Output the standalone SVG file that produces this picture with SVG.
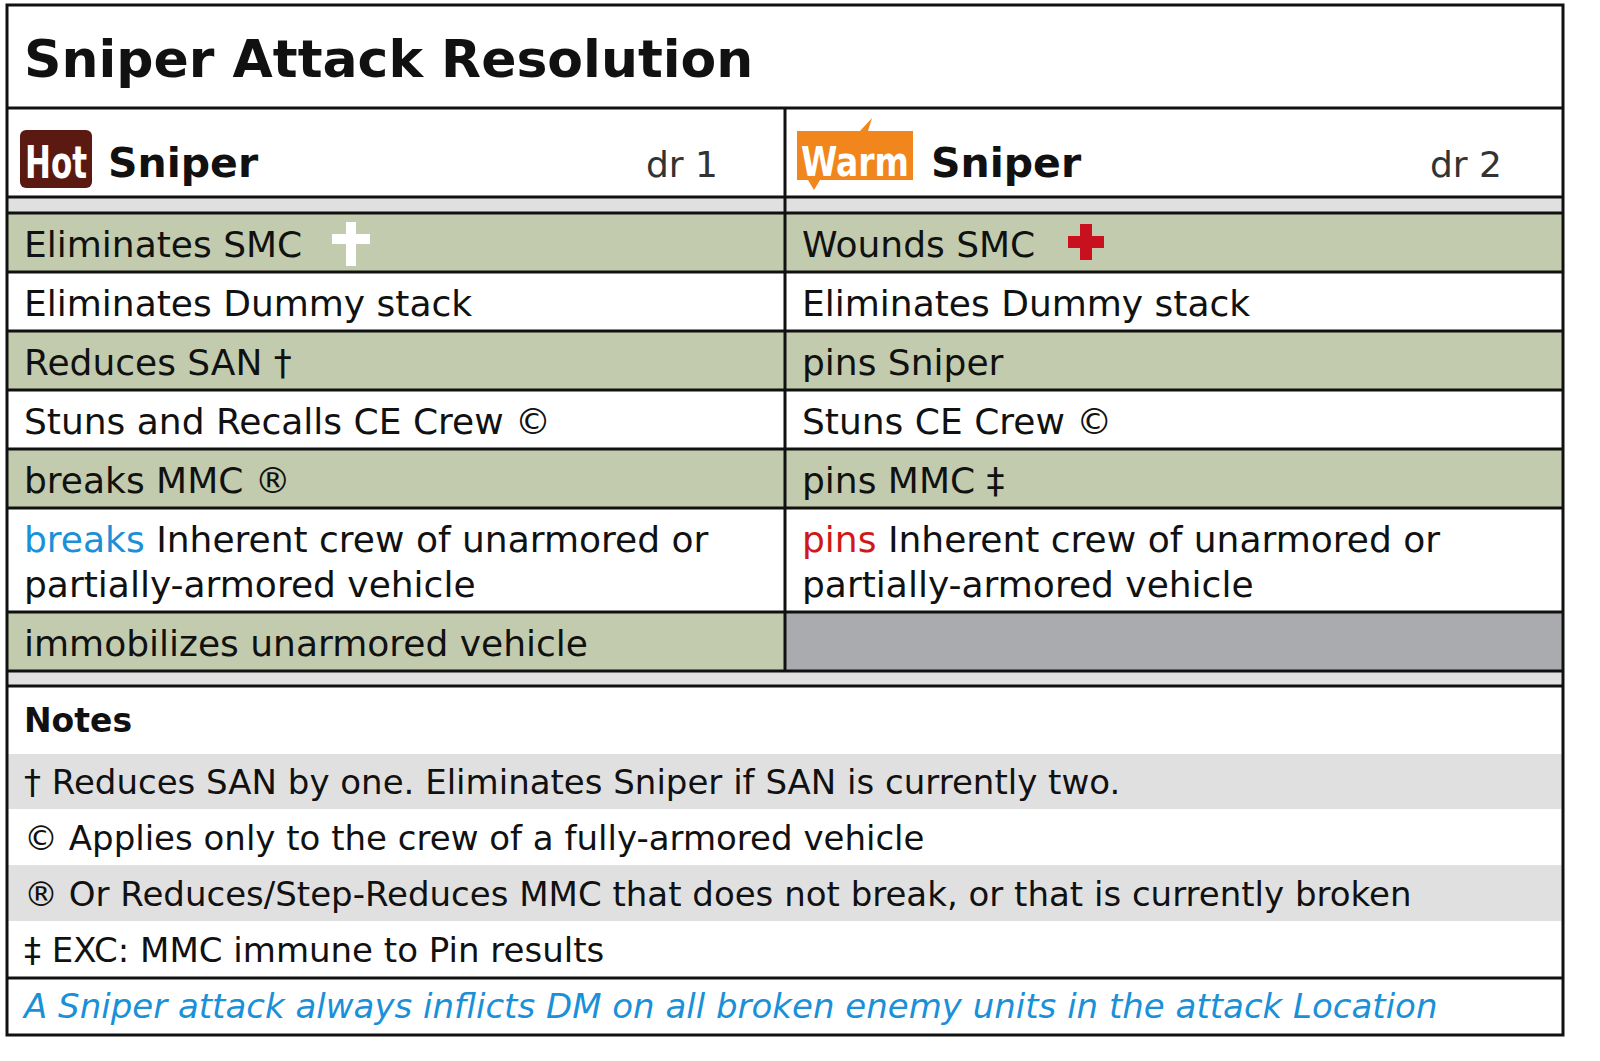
<svg xmlns="http://www.w3.org/2000/svg" width="1600" height="1061" viewBox="0 0 1600 1061">
<style>
.t{font-family:"DejaVu Sans",Verdana,sans-serif;font-size:36px;fill:#111}
.n{font-size:34px}
.b{font-weight:bold}
.g{fill:#c2cbad}
.gr{fill:#e0e0e0}
.ln{stroke:#111;stroke-width:3;fill:none}
</style>
<rect x="0" y="0" width="1600" height="1061" fill="#fff"/>
<g id="bands">
<rect class="gr" x="7" y="197" width="1556" height="16"/>
<rect class="g" x="7" y="213" width="1556" height="59"/>
<rect class="g" x="7" y="331" width="1556" height="59"/>
<rect class="g" x="7" y="449" width="1556" height="59"/>
<rect class="g" x="7" y="612" width="778" height="59"/>
<rect x="785" y="612" width="778" height="59" fill="#aaabaf"/>
<rect class="gr" x="7" y="671" width="1556" height="15"/>
<rect class="gr" x="7" y="754" width="1556" height="55"/>
<rect class="gr" x="7" y="865" width="1556" height="56"/>
</g>
<g id="grid">
<rect class="ln" x="7" y="5" width="1556" height="1030"/>
<path class="ln" d="M7 108H1563M7 197H1563M7 213H1563M7 272H1563M7 331H1563M7 390H1563M7 449H1563M7 508H1563M7 612H1563M7 671H1563M7 686H1563M7 978H1563M785 108V671"/>
</g>
<g id="title"><text class="t b" x="24" y="77" style="font-size:52px">Sniper Attack Resolution</text></g>
<g id="hot">
<rect x="20" y="130" width="72" height="58" rx="6" fill="#5a1a12"/>
<text x="56" y="178" text-anchor="middle" font-family="DejaVu Sans Condensed,sans-serif" font-weight="bold" font-size="44" fill="#fff" textLength="62" lengthAdjust="spacingAndGlyphs">Hot</text>
<text class="t b" x="108" y="177" style="font-size:41px">Sniper</text>
<text class="t" x="718" y="177" text-anchor="end" style="fill:#333">dr 1</text>
</g>
<g id="warm">
<path d="M797 131H860L872 118L868 131H913V180H820L814 190L808 180H797Z" fill="#f0861c"/>
<text x="855" y="176" text-anchor="middle" font-family="DejaVu Sans Condensed,sans-serif" font-weight="bold" font-size="40" fill="#fff" textLength="108" lengthAdjust="spacingAndGlyphs">Warm</text>
<text class="t b" x="931" y="177" style="font-size:41px">Sniper</text>
<text class="t" x="1502" y="177" text-anchor="end" style="fill:#333">dr 2</text>
</g>
<g id="left">
<text class="t" x="24" y="257">Eliminates SMC</text>
<path d="M346 222h10v12h14v10h-14v22h-10v-22h-14v-10h14z" fill="#fff"/>
<text class="t" x="24" y="316">Eliminates Dummy stack</text>
<text class="t" x="24" y="375">Reduces SAN †</text>
<text class="t" x="24" y="434">Stuns and Recalls CE Crew ©</text>
<text class="t" x="24" y="493">breaks MMC ®</text>
<text class="t" x="24" y="552"><tspan style="fill:#1a90d8">breaks</tspan> Inherent crew of unarmored or</text>
<text class="t" x="24" y="597">partially-armored vehicle</text>
<text class="t" x="24" y="656">immobilizes unarmored vehicle</text>
</g>
<g id="right">
<text class="t" x="802" y="257">Wounds SMC</text>
<path d="M1080 224h12v12h12v12h-12v12h-12v-12h-12v-12h12z" fill="#c8101e"/>
<text class="t" x="802" y="316">Eliminates Dummy stack</text>
<text class="t" x="802" y="375">pins Sniper</text>
<text class="t" x="802" y="434">Stuns CE Crew ©</text>
<text class="t" x="802" y="493">pins MMC ‡</text>
<text class="t" x="802" y="552"><tspan style="fill:#d01818">pins</tspan> Inherent crew of unarmored or</text>
<text class="t" x="802" y="597">partially-armored vehicle</text>
</g>
<g id="notes">
<text class="t b" x="24" y="732" style="font-size:33px">Notes</text>
<text class="t n" x="24" y="794">† Reduces SAN by one. Eliminates Sniper if SAN is currently two.</text>
<text class="t n" x="24" y="850">© Applies only to the crew of a fully-armored vehicle</text>
<text class="t n" x="24" y="906">® Or Reduces/Step-Reduces MMC that does not break, or that is currently broken</text>
<text class="t n" x="24" y="962">‡ EXC: MMC immune to Pin results</text>
<text class="t n" x="24" y="1018" style="font-style:italic;fill:#1a90d8">A Sniper attack always inflicts DM on all broken enemy units in the attack Location</text>
</g>
</svg>
